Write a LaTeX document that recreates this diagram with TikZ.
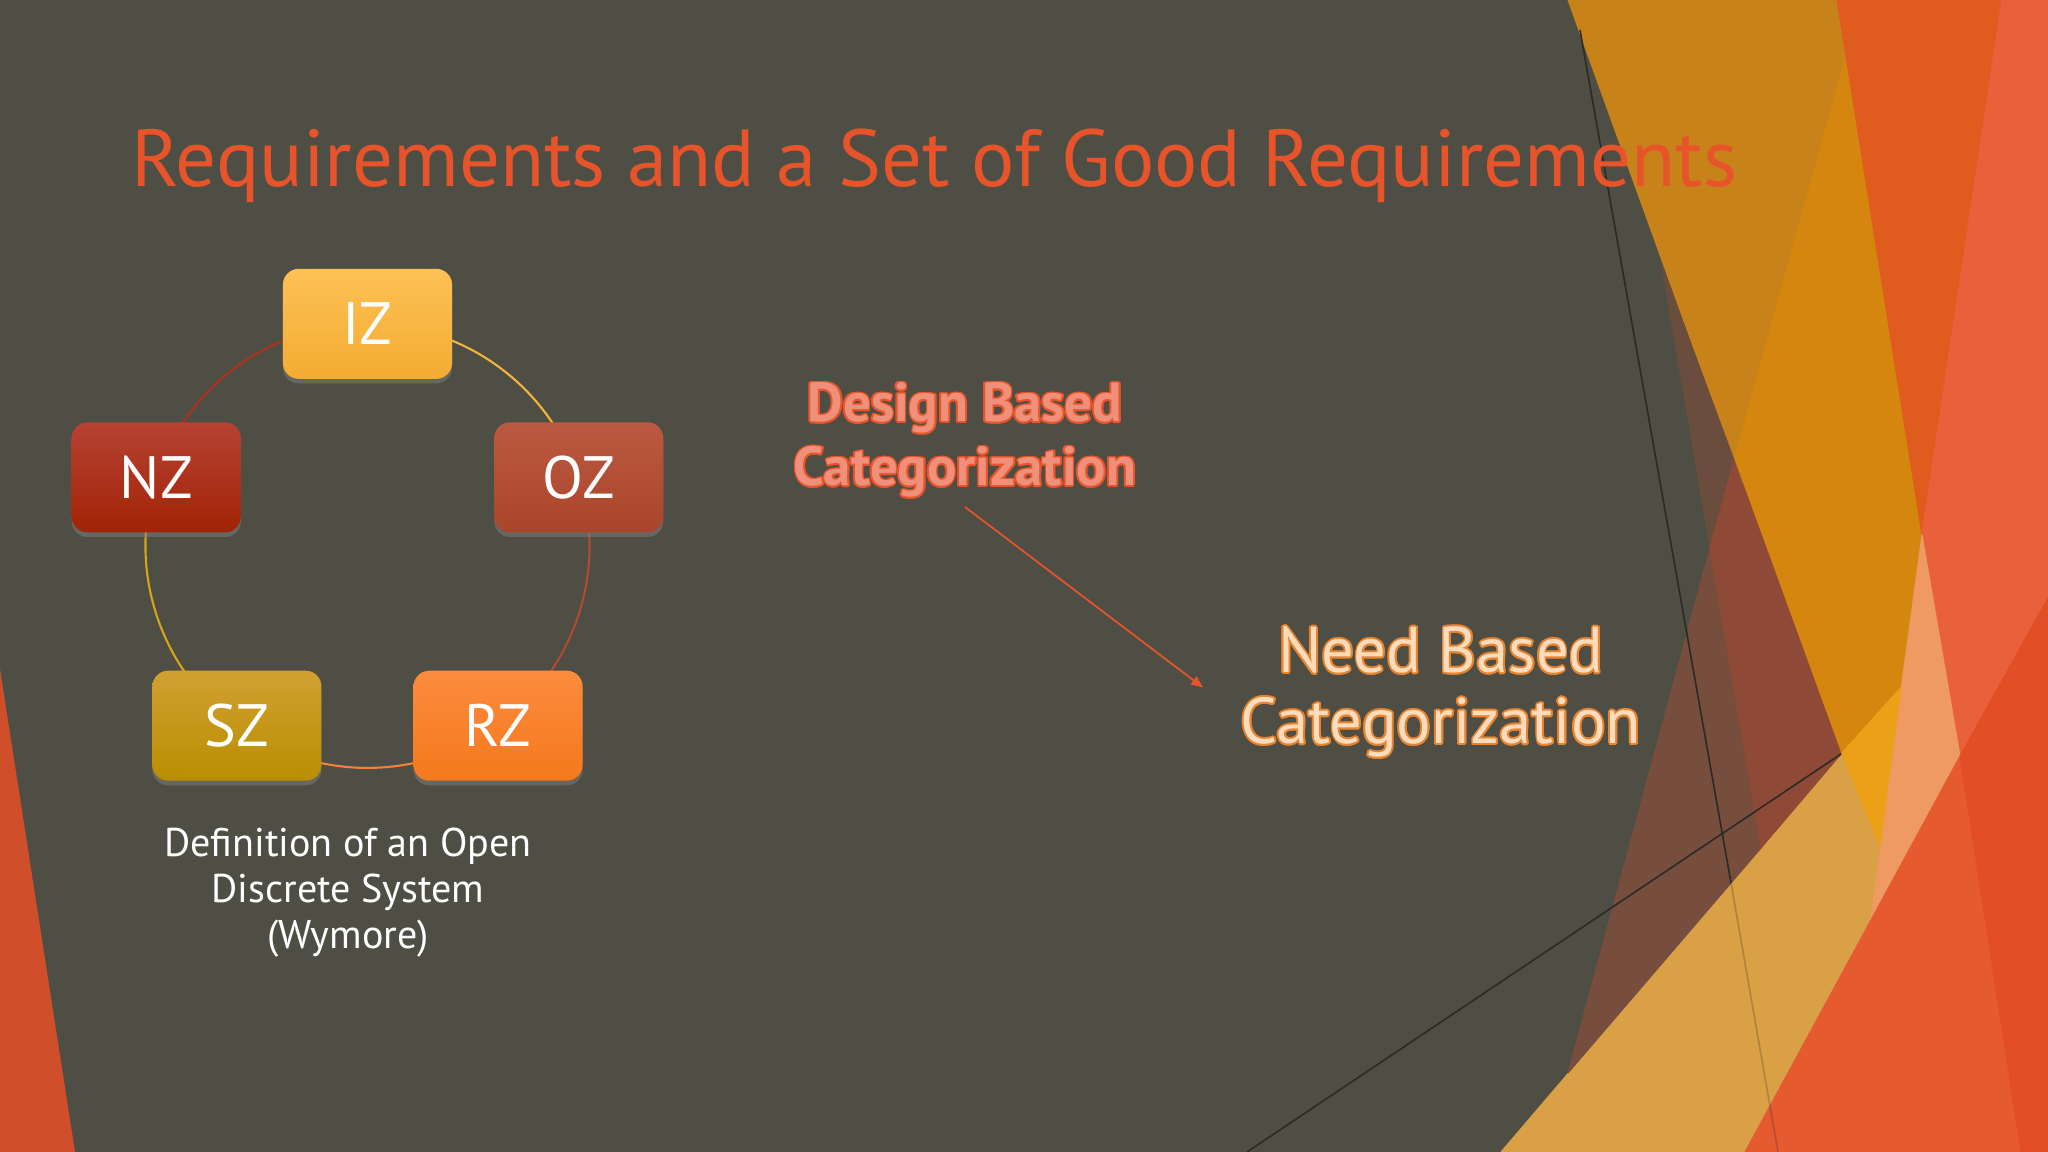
\documentclass[tikz,border=0pt]{standalone}
\usepackage{fontspec}
\setmainfont{PT Sans}
\usetikzlibrary{calc,shadows,arrows.meta}

\definecolor{slate}{HTML}{4F4E45}
\definecolor{titlered}{HTML}{E8542A}
\definecolor{leftred}{HTML}{D14E2A}
\definecolor{gold}{HTML}{C8821A}
\definecolor{goldlight}{HTML}{D4860F}
\definecolor{deeporange}{HTML}{E05C1E}
\definecolor{salmonred}{HTML}{E8613A}
\definecolor{peach}{HTML}{EE9A62}
\definecolor{brightyellow}{HTML}{EBA018}
\definecolor{tan}{HTML}{DAA045}
\definecolor{redorange}{HTML}{E65A30}
\definecolor{deepred}{HTML}{E24E25}
\definecolor{brownA}{HTML}{6B4D3E}
\definecolor{brownB}{HTML}{774D3D}
\definecolor{brownC}{HTML}{8E4A37}
\definecolor{facetline}{HTML}{2B2A24}
% cycle boxes
\definecolor{izTop}{HTML}{FDC155}\definecolor{izBot}{HTML}{F3AC32}
\definecolor{ozTop}{HTML}{BC5942}\definecolor{ozBot}{HTML}{A8452A}
\definecolor{rzTop}{HTML}{FC8C3E}\definecolor{rzBot}{HTML}{F5781C}
\definecolor{szTop}{HTML}{D2A032}\definecolor{szBot}{HTML}{B98E00}
\definecolor{nzTop}{HTML}{B64234}\definecolor{nzBot}{HTML}{A22305}
\definecolor{izArc}{HTML}{F2B43C}
\definecolor{ozArc}{HTML}{AF4B32}
\definecolor{rzArc}{HTML}{F0823C}
\definecolor{szArc}{HTML}{D7A514}
\definecolor{nzArc}{HTML}{AA321E}
% categorization texts
\definecolor{designEdge}{HTML}{E8552B}
\definecolor{designFill}{HTML}{F0907A}
\definecolor{needEdge}{HTML}{E8842E}
\definecolor{needFill}{HTML}{FDDCBE}

\newsavebox\halobox
\newlength\halor
% text with an outline of colour #1, filled with #2
\newcommand\halotext[3]{%
  \sbox\halobox{\color{#1}#3}%
  \leavevmode
  \foreach \haloang in {0,30,...,330}{%
    \rlap{\kern\fpeval{round(cosd(\haloang),4)}\halor\raise\fpeval{round(sind(\haloang),4)}\halor\copy\halobox}}%
  \textcolor{#2}{#3}}

\pgfdeclarelayer{back}
\pgfdeclarelayer{links}
\pgfsetlayers{back,links,main}

\tikzset{
  facet/.style={fill=#1, draw=#1, line width=0.3pt, line join=round},
  zbox/.style={rectangle, rounded corners=4.5pt, minimum width=1.69cm, minimum height=1.10cm,
    text=white, font=\fontsize{17}{20}\selectfont,
    drop shadow={shadow xshift=0pt, shadow yshift=-1.3pt, opacity=.5}},
  ring/.style={line width=0.6pt, bend left=36, looseness=0.94},
  cat/.style={align=center, inner sep=2pt},
  catarrow/.style={-{Triangle[length=3.4pt,width=2.8pt]}, titlered, line width=0.5pt}
}

\begin{document}
\begin{tikzpicture}[x=0.01cm, y=-0.01cm]
\useasboundingbox (0,0) rectangle (2048,1152);

\begin{pgfonlayer}{back}
  \fill[slate] (0,0) rectangle (2048,1152);
  \fill[leftred] (0,669) -- (75,1152) -- (0,1152) -- cycle;
  % facets on the right
  \path[facet=gold] (1568,0) -- (1837,0) -- (1846,55) -- (1734,460) -- cycle;
  \path[facet=goldlight] (1846,55) -- (1922,535) -- (1901.3,687) -- (1841,754) -- (1734,460) -- cycle;
  \path[facet=deeporange] (1837,0) -- (2002,0) -- (1922,535) -- cycle;
  \path[facet=salmonred] (2002,0) -- (2048,0) -- (2048,598) -- (1960,756) -- (1922,535) -- cycle;
  \path[facet=peach] (1922,535) -- (1960,756) -- (1869,925) -- cycle;
  \path[facet=brightyellow] (1841,754) -- (1901.3,687) -- (1879.5,848) -- cycle;
  \path[facet=tan] (1501,1152) -- (1841,754) -- (1879.5,848) -- (1869,925) -- (1745,1152) -- cycle;
  \path[facet=redorange] (1745,1152) -- (1960,756) -- (2021,1152) -- cycle;
  \path[facet=deepred] (1960,756) -- (2048,598) -- (2048,1152) -- (2021,1152) -- cycle;
  \path[facet=brownA] (1662,266) -- (1710,548) -- (1734,460) -- cycle;
  \path[facet=brownB] (1710,548) -- (1761,848) -- (1568,1073) -- cycle;
  \path[facet=brownC] (1734,460) -- (1710,548) -- (1761,848) -- (1841,754) -- cycle;
  \draw[facetline, line width=0.45pt] (1580,30) -- (1731,883);
  \draw[facetline, line width=0.45pt, opacity=.25] (1731,883) -- (1778,1152);
  \draw[facetline, line width=0.45pt] (1247,1152) -- (1841,754);
\end{pgfonlayer}

\node[anchor=base west, inner sep=0, text=titlered, font=\fontsize{23}{28}\selectfont]
  (title) at (131,187) {Requirements and a Set of Good Requirements};

% the cycle
\coordinate (hub) at (367.5,546);
\foreach \n/\a/\t/\b in {IZ/90/izTop/izBot, OZ/18/ozTop/ozBot, RZ/-54/rzTop/rzBot,
                         SZ/-126/szTop/szBot, NZ/162/nzTop/nzBot}
  \node[zbox, top color=\t, bottom color=\b] (\n) at ($(hub)+(\a:2.22cm)$) {\n};

\begin{pgfonlayer}{links}
  \draw[ring, izArc] (IZ.center) to (OZ.center);
  \draw[ring, ozArc] (OZ.center) to (RZ.center);
  \draw[ring, rzArc] (RZ.center) to (SZ.center);
  \draw[ring, szArc] (SZ.center) to (NZ.center);
  \draw[ring, nzArc] (NZ.center) to (IZ.center);
\end{pgfonlayer}

\node[align=center, text=white, font=\fontsize{11.4}{13.1}\selectfont]
  (caption) at (348,893) {Definition of an Open\\Discrete System\\(Wymore)};

% categorizations
\setlength\halor{0.5pt}
\node[cat, anchor=south, font=\bfseries\fontsize{15.6}{18.2}\selectfont] (dbc) at (965,507)
  {\halotext{designEdge}{designFill}{Design Based}\\\halotext{designEdge}{designFill}{Categorization}};
\setlength\halor{0.55pt}
\node[cat, anchor=north, font=\fontsize{18.4}{20.2}\selectfont] (nbc) at (1441,617)
  {\halotext{needEdge}{needFill}{Need Based}\\\halotext{needEdge}{needFill}{Categorization}};

\draw[catarrow, shorten >=10.7pt] (dbc.south) -- (nbc.185);

\end{tikzpicture}
\end{document}
